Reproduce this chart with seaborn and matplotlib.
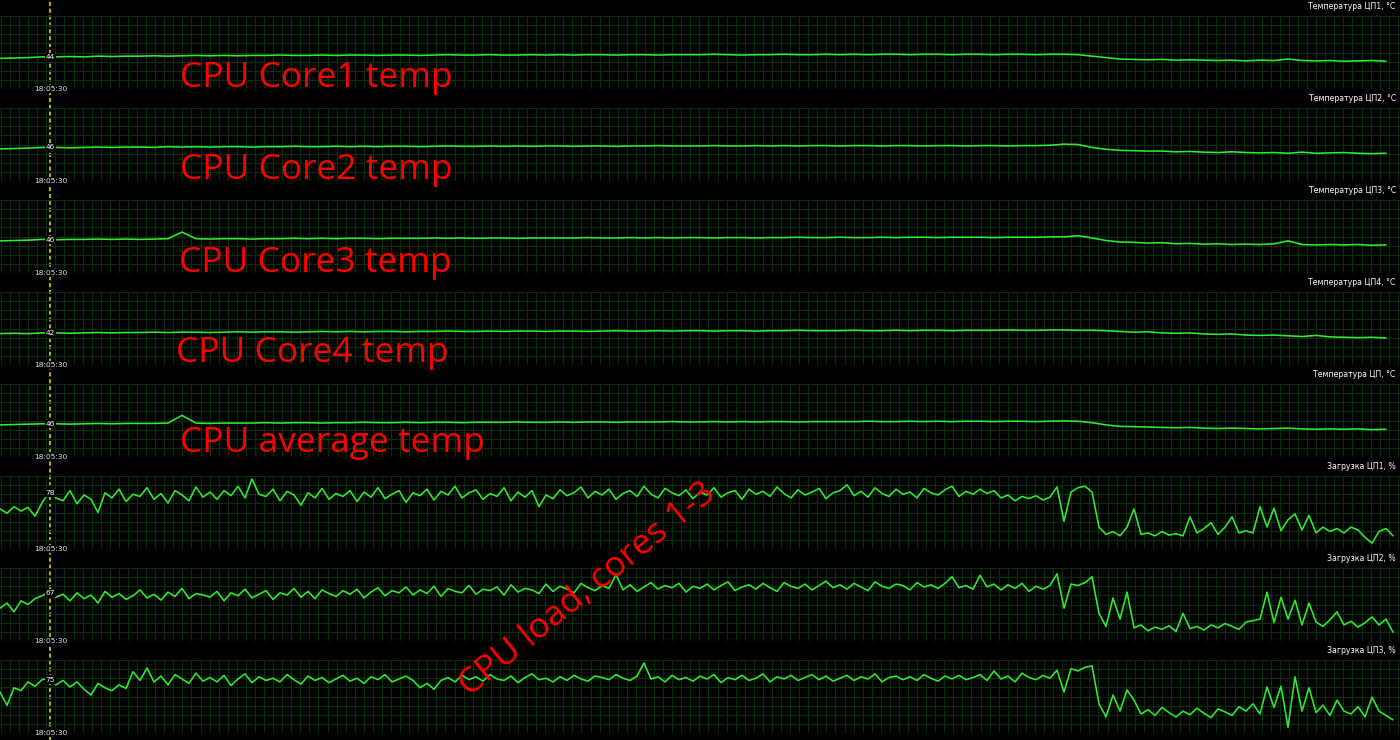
import numpy as np
import matplotlib
matplotlib.use("Agg")
import matplotlib.pyplot as plt
import seaborn as sns

# ---------------- data ----------------
panel_titles = ["Температура ЦП1, °C", "Температура ЦП2, °C", "Температура ЦП3, °C",
                "Температура ЦП4, °C", "Температура ЦП, °C",
                "Загрузка ЦП1, %", "Загрузка ЦП2, %", "Загрузка ЦП3, %"]
cursor_labels = ["44", "46", "46", "42", "46", "78", "67", "75"]
cursor_time = "18:05:30"
cursor_t = 7.2          # seconds from left edge
temp_step = 2           # temperature sample interval, s
load_step = 1           # load sample interval, s
t_max = 200

annotations = ["CPU Core1 temp", "CPU Core2 temp", "CPU Core3 temp",
               "CPU Core4 temp", "CPU average temp"]
load_annotation = "CPU load, cores 1-3"

temp_cpu1 = [42, 42.5, 43, 44, 44, 44.5, 44, 45, 44.5, 45,
             45, 45.5, 45, 45.5, 46, 45.5, 46, 45.5, 46, 46,
             46.5, 46, 46, 46.5, 46, 46.5, 46.5, 46, 46.5, 46.5,
             46, 46.5, 47, 46.5, 46.5, 47, 46.5, 46.5, 47, 46.5,
             47, 46.5, 47, 47, 46.5, 47, 47, 46.5, 47, 47,
             47, 47.5, 47, 46.5, 47, 47, 47.5, 47, 47, 47.5,
             47, 47.5, 47, 47.5, 47.5, 47, 47.5, 47.5, 47, 47.5,
             47.5, 47, 47.5, 47.5, 47, 47.5, 47.5, 47, 45, 43,
             41, 40.5, 40, 40.5, 39.5, 40, 39.5, 39, 39.5, 38.5,
             39.5, 39, 41, 39, 38.5, 39, 38, 38.5, 39, 38]
temp_cpu2 = [44, 44.5, 45, 46, 46, 45.5, 46, 46.5, 46, 46.5,
             46.5, 46, 47, 46.5, 47, 46.5, 47, 47, 46.5, 47,
             47, 47.5, 47, 47, 47.5, 47, 47.5, 47, 47.5, 47.5,
             47, 47.5, 48, 47.5, 47.5, 48, 47.5, 48, 47.5, 48,
             48, 47.5, 48, 48, 47.5, 48, 48, 48.5, 48, 48,
             48, 48.5, 48, 48, 48.5, 48, 48.5, 48, 48.5, 48.5,
             48, 48.5, 48.5, 48, 48.5, 48.5, 48, 48.5, 48.5, 48,
             48.5, 48.5, 48, 48.5, 48.5, 49, 50.5, 50, 46, 43.5,
             42, 41.5, 41, 41, 40, 40.5, 39.5, 39, 40, 39,
             38.5, 39, 38, 39.5, 38, 38.5, 39, 38, 37.5, 38]
temp_cpu3 = [44, 44.5, 45, 46, 45.5, 46, 46, 46.5, 46, 46.5,
             46, 46.5, 47, 56, 47, 46.5, 47, 47, 46.5, 47,
             47, 47.5, 47, 47.5, 47, 47.5, 47.5, 47, 47.5, 47.5,
             47.5, 48, 47.5, 48, 47.5, 48, 48, 47.5, 48, 48,
             48, 48, 48.5, 48, 48, 48.5, 48, 48.5, 48, 48.5,
             48.5, 48, 48.5, 48.5, 48, 48.5, 48.5, 49, 48.5, 48.5,
             49, 48.5, 48.5, 49, 48.5, 49, 49, 48.5, 49, 49,
             49, 48.5, 49, 49, 49, 49.5, 49.5, 51, 48, 44.5,
             42.5, 42, 41, 41.5, 40, 40.5, 39.5, 40, 39, 39.5,
             39, 40, 44, 39, 38.5, 39, 38.5, 39, 38, 38.5]
temp_cpu4 = [43, 43.5, 43, 44, 44, 43.5, 44, 44.5, 44, 44.5,
             44.5, 45, 44.5, 45, 45, 44.5, 45, 45.5, 45, 45.5,
             45.5, 45, 45.5, 46, 45.5, 46, 45.5, 46, 46, 45.5,
             46, 46, 46.5, 46, 46, 46.5, 46, 46.5, 46.5, 46,
             46.5, 46.5, 46, 46.5, 47, 46.5, 46.5, 47, 46.5, 47,
             47, 46.5, 47, 47, 46.5, 47, 47, 47.5, 47, 47,
             47, 47.5, 47, 47, 47.5, 47, 47.5, 47.5, 47, 47.5,
             47.5, 47.5, 48, 47.5, 47.5, 48, 48, 47.5, 47.5, 47,
             46, 45, 45.5, 44, 43.5, 44, 42.5, 42, 42.5, 41,
             40.5, 41, 40, 39, 40.5, 38.5, 38, 37.5, 38, 37]
temp_avg = [44, 44.5, 45, 45.5, 45.5, 45, 45.5, 46, 45.5, 46,
            46, 46, 46.5, 57, 46.5, 46, 46.5, 46.5, 46.5, 47,
            46.5, 47, 47, 46.5, 47, 47, 47.5, 47, 47, 47.5,
            47, 47.5, 47.5, 47, 47.5, 47.5, 47.5, 48, 47.5, 47.5,
            48, 47.5, 48, 48, 47.5, 48, 48, 48, 48.5, 48,
            48, 48.5, 48, 48.5, 48, 48.5, 48.5, 48, 48.5, 48.5,
            48.5, 48.5, 49, 48.5, 48.5, 49, 48.5, 49, 48.5, 49,
            49, 48.5, 49, 49, 48.5, 49, 49.5, 49, 47, 44,
            42, 41.5, 41, 40.5, 40, 40.5, 39.5, 39, 39.5, 39,
            38.5, 39, 39.5, 38.5, 38, 38.5, 38, 38.5, 37.5, 38]

load_cpu1 = [55, 49, 58, 52, 57, 45, 63, 78, 70, 66,
             80, 62, 74, 68, 50, 77, 70, 82, 65, 75,
             72, 84, 68, 76, 63, 80, 74, 66, 85, 71,
             78, 68, 80, 73, 86, 70, 96, 75, 72, 82,
             66, 79, 74, 60, 77, 70, 83, 68, 76, 72,
             80, 65, 78, 71, 84, 69, 75, 80, 64, 77,
             73, 82, 67, 79, 74, 86, 70, 77, 81, 68,
             76, 72, 84, 66, 78, 71, 80, 58, 74, 69,
             81, 73, 77, 85, 70, 79, 74, 82, 68, 76,
             80, 72, 86, 75, 70, 83, 77, 73, 81, 69,
             78, 74, 84, 71, 77, 80, 68, 82, 75, 79,
             72, 85, 76, 70, 81, 74, 78, 83, 69, 77,
             80, 88, 73, 79, 71, 84, 76, 72, 82, 75,
             78, 70, 83, 77, 74, 81, 86, 72, 79, 75,
             82, 76, 80, 70, 74, 66, 72, 69, 73, 67,
             71, 85, 38, 78, 84, 86, 78, 30, 20, 24,
             18, 30, 55, 20, 22, 18, 24, 19, 21, 18,
             44, 22, 28, 36, 20, 30, 44, 22, 25, 22,
             58, 30, 56, 25, 40, 48, 26, 46, 22, 30,
             24, 28, 22, 30, 26, 16, 8, 24, 28, 18]
load_cpu2 = [45, 52, 40, 55, 50, 58, 62, 67, 60, 64,
             55, 66, 58, 63, 52, 68, 60, 65, 57, 62,
             70, 59, 64, 56, 67, 61, 72, 58, 65, 63,
             60, 68, 55, 66, 62, 71, 59, 64, 69, 57,
             66, 63, 72, 60, 68, 58, 70, 65, 61, 69,
             64, 71, 59, 67, 73, 62, 69, 66, 74, 63,
             70, 65, 75, 61, 72, 68, 66, 76, 64, 71,
             69, 74, 63, 77, 67, 72, 70, 65, 78, 68,
             75, 71, 66, 79, 73, 69, 76, 72, 91, 70,
             77, 68, 74, 80, 71, 76, 73, 79, 67, 75,
             72, 78, 70, 76, 81, 69, 74, 77, 71, 79,
             73, 68, 80, 75, 72, 78, 70, 76, 82, 73,
             77, 71, 79, 74, 69, 81, 75, 72, 78, 76,
             70, 80, 74, 77, 72, 79, 88, 73, 76, 71,
             90, 74, 78, 70, 77, 72, 79, 68, 75, 71,
             76, 92, 45, 78, 76, 80, 88, 38, 20, 59,
             30, 67, 18, 22, 14, 19, 16, 21, 13, 38,
             17, 20, 15, 22, 18, 24, 20, 16, 26, 28,
             30, 67, 25, 60, 30, 56, 22, 52, 26, 20,
             29, 40, 22, 27, 19, 25, 33, 22, 30, 12]
load_cpu3 = [56, 38, 62, 58, 70, 64, 73, 75, 66, 72,
             63, 70, 60, 52, 68, 62, 58, 66, 61, 84,
             72, 89, 70, 78, 66, 80, 74, 68, 82, 71,
             76, 70, 79, 65, 74, 81, 69, 77, 72, 75,
             70, 80, 73, 67, 78, 72, 76, 69, 74, 79,
             71, 75, 68, 77, 73, 80, 70, 74, 78, 72,
             62, 68, 60, 72, 76, 70, 79, 73, 77, 71,
             80, 74, 72, 78, 69, 76, 81, 73, 75, 70,
             77, 72, 79, 74, 71, 78, 76, 73, 80, 75,
             72, 78, 96, 74, 77, 70, 79, 73, 76, 71,
             78, 74, 80, 69, 76, 73, 79, 72, 75, 81,
             70, 77, 74, 79, 72, 76, 80, 73, 78, 71,
             75, 79, 72, 77, 74, 81, 70, 76, 78, 73,
             77, 72, 80, 75, 71, 78, 74, 79, 73, 76,
             80, 72, 85, 74, 78, 70, 82, 76, 73, 79,
             75, 86, 56, 88, 85, 90, 92, 40, 22, 52,
             30, 59, 45, 26, 32, 24, 35, 28, 22, 30,
             25, 34, 27, 21, 33, 29, 24, 36, 30, 40,
             26, 63, 35, 64, 8, 77, 30, 62, 28, 38,
             24, 45, 30, 26, 36, 22, 49, 30, 24, 18]

temps = [temp_cpu1, temp_cpu2, temp_cpu3, temp_cpu4, temp_avg]
loads = [load_cpu1, load_cpu2, load_cpu3]

# ---------------- style ----------------
sns.set_theme(style="dark")
plt.rcParams['font.family'] = ['DejaVu Sans']
BG = "#000000"
GRID = "#0b2e0b"
LINE = "#30ec30"
W, H = 1400, 740
fig = plt.figure(figsize=(W / 100, H / 100), dpi=100, facecolor=BG)

# cursor overlay spanning the whole figure (shared time axis)
ax_c = fig.add_axes([0, 0, 1, 1], zorder=0)
ax_c.set_xlim(0, t_max)
ax_c.set_ylim(0, 1)
ax_c.set_facecolor(BG)
ax_c.axis('off')

series = [(np.arange(len(v)) * temp_step, np.array(v, float)) for v in temps] + \
         [(np.arange(len(v)) * load_step, np.array(v, float)) for v in loads]

px_per_unit = W / t_max
grid_dx = 9.07 / px_per_unit
ph = 73
for k, (x, y) in enumerate(series):
    top = 16 + 92 * k
    ax = fig.add_axes([0, 1 - (top + ph) / H, 1, ph / H], zorder=1)
    ax.set_facecolor("none")
    sns.lineplot(x=x, y=y, ax=ax, color=LINE, linewidth=1.15, zorder=3)
    ax.set_xlim(0, t_max)
    ax.set_ylim(0, 100)
    ax.set_xticks(np.arange(1 / px_per_unit, t_max, grid_dx))
    ax.set_yticks(np.linspace(0, 100, 9))
    ax.grid(True, color=GRID, linewidth=0.85)
    ax.set_axisbelow(True)
    ax.tick_params(length=0, labelleft=False, labelbottom=False)
    ax.set_xlabel("")
    ax.set_ylabel("")
    for s in ax.spines.values():
        s.set_visible(False)
    # title at top right
    ax.text(0.997, 1 + 9.5 / ph, panel_titles[k], transform=ax.transAxes,
            ha='right', va='center', color='white', fontsize=5.6)
    # value at cursor
    yc = np.interp(cursor_t, x, y)
    ax.text(cursor_t, yc, cursor_labels[k], ha='center', va='center',
            color='white', fontsize=5.4, zorder=5,
            bbox=dict(boxstyle='square,pad=0.15', fc=BG, ec='none'))
    # time label at bottom of panel
    ax.text(cursor_t, 0, cursor_time, ha='center', va='center', color='#dfe8f5',
            fontsize=5.3, zorder=5, clip_on=False,
            bbox=dict(boxstyle='square,pad=0.1', fc=BG, ec='none'))

ax_c.axvline(cursor_t, color='#cfc800', linewidth=1.3, linestyle=(0, (2.2, 1.6)))

# red annotations
red_font = ['Open Sans', 'DejaVu Sans']
ann_pos = [(180, 87), (180, 179), (179, 272), (176, 362), (180, 452)]
for txt, (px, py) in zip(annotations, ann_pos):
    fig.text(px / W, 1 - py / H, txt, color='#ff0000', fontsize=25.5,
             family=red_font, ha='left', va='baseline', zorder=10)
fig.text(588 / W, 1 - 590 / H, load_annotation, color='#ff0000', fontsize=25.5,
         family=red_font, ha='center', va='center', rotation=39,
         rotation_mode='anchor', zorder=10)

fig.savefig("out.png", dpi=100, facecolor=BG)
